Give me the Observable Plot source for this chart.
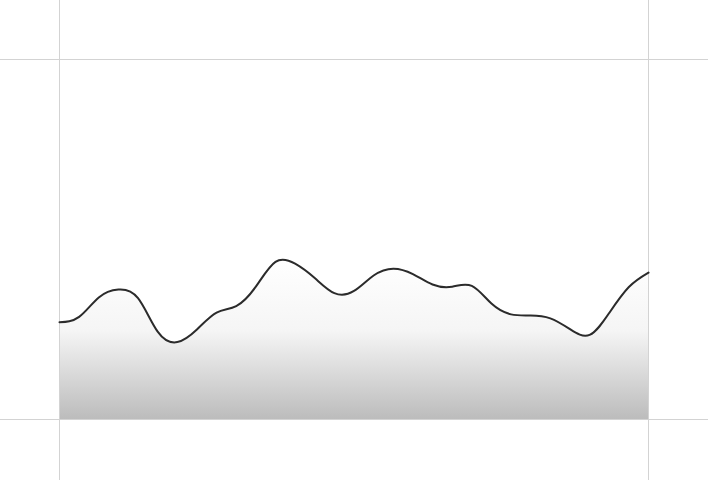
<!DOCTYPE html>
<html>
<head>
<meta charset="utf-8">
<script src="https://cdn.jsdelivr.net/npm/d3@7"></script>
<script src="https://cdn.jsdelivr.net/npm/@observablehq/plot@0.6"></script>
<style>
  html, body { margin: 0; padding: 0; background: #fff; }
  svg { display: block; }
</style>
</head>
<body>
<div id="chart"></div>
<script>
const xs = d3.range(31);
const values = [27.0, 28.5, 33.9, 36.1, 33.7, 24.4, 21.5, 25.0, 29.7, 31.5,
                36.9, 43.8, 43.3, 39.3, 35.1, 35.7, 40.0, 41.9, 40.4, 37.5,
                36.9, 37.1, 32.2, 29.2, 28.9, 28.1, 25.1, 23.5, 29.6, 36.8, 40.8];
const gridX = [0, 30];
const gridY = [0, 100];

const data = xs.map((x, i) => ({x, y: values[i]}));

function gradientDefs() {
  const ns = "http://www.w3.org/2000/svg";
  const defs = document.createElementNS(ns, "defs");
  const g = document.createElementNS(ns, "linearGradient");
  g.setAttribute("id", "areaGrad");
  g.setAttribute("x1", "0"); g.setAttribute("y1", "0");
  g.setAttribute("x2", "0"); g.setAttribute("y2", "1");
  [["0", "#ffffff"], ["0.45", "#f5f5f5"], ["1", "#bcbcbc"]].forEach(([o, c]) => {
    const s = document.createElementNS(ns, "stop");
    s.setAttribute("offset", o);
    s.setAttribute("stop-color", c);
    g.appendChild(s);
  });
  defs.appendChild(g);
  return defs;
}

const chart = Plot.plot({
  width: 708,
  height: 480,
  marginLeft: 59,
  marginRight: 60,
  marginTop: 59,
  marginBottom: 61,
  x: {domain: [0, 30], axis: null},
  y: {domain: [0, 100], axis: null},
  marks: [
    gradientDefs,
    Plot.areaY(data, {x: "x", y: "y", curve: "natural", fill: "url(#areaGrad)"}),
    Plot.ruleY(gridY, {stroke: "#d3d3d3", strokeWidth: 1, insetLeft: -59, insetRight: -60}),
    Plot.ruleX(gridX, {stroke: "#d3d3d3", strokeWidth: 1, insetTop: -59, insetBottom: -61}),
    Plot.lineY(data, {x: "x", y: "y", curve: "natural", stroke: "#2b2b2b", strokeWidth: 2})
  ]
});
document.getElementById("chart").appendChild(chart);
</script>
</body>
</html>
